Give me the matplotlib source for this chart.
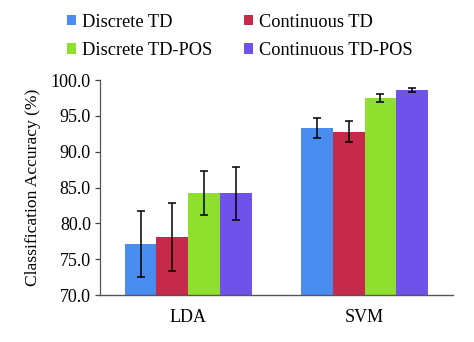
import matplotlib
matplotlib.use("Agg")
import matplotlib.pyplot as plt
import numpy as np

plt.rcParams.update({
    "font.family": "Liberation Serif",
    "font.size": 13,
})

classifiers = ["LDA", "SVM"]
series = ["Discrete TD", "Continuous TD", "Discrete TD-POS", "Continuous TD-POS"]
accuracy = {
    "Discrete TD":       [77.2, 93.3],
    "Continuous TD":     [78.1, 92.8],
    "Discrete TD-POS":   [84.2, 97.5],
    "Continuous TD-POS": [84.2, 98.6],
}
std_err = {
    "Discrete TD":       [4.6, 1.4],
    "Continuous TD":     [4.75, 1.5],
    "Discrete TD-POS":   [3.05, 0.6],
    "Continuous TD-POS": [3.7, 0.3],
}
colors = {
    "Discrete TD":       "#4a8df0",
    "Continuous TD":     "#c52a4a",
    "Discrete TD-POS":   "#8fe02c",
    "Continuous TD-POS": "#6e52ea",
}

fig = plt.figure(figsize=(4.74, 3.42), dpi=100)
ax = fig.add_axes([0.211, 0.137, 0.744, 0.629])

x = np.arange(len(classifiers))
width = 0.18
handles = {}
for i, name in enumerate(series):
    offs = (i - 1.5) * width
    b = ax.bar(x + offs, accuracy[name], width, color=colors[name],
               yerr=std_err[name], capsize=2.6,
               error_kw=dict(ecolor="black", elinewidth=1.1, capthick=1.1),
               label=name)
    handles[name] = b

ax.set_xlim(-0.5, 1.5)
ax.set_ylim(70, 100)
ax.set_yticks(np.arange(70, 100.1, 5))
ax.set_yticklabels([f"{v:.1f}" for v in np.arange(70, 100.1, 5)])
ax.set_xticks(x)
ax.set_xticklabels(classifiers)
ax.tick_params(axis="x", length=0, pad=10)
ax.tick_params(axis="y", direction="out", length=3.5, width=0.9, color="#444444", pad=3)
ax.set_ylabel("Classification Accuracy (%)", fontsize=12.6, labelpad=7)

for s in ["top", "right"]:
    ax.spines[s].set_visible(False)
ax.spines["left"].set_color("#555555")
ax.spines["bottom"].set_color("#555555")
ax.spines["left"].set_linewidth(0.9)
ax.spines["bottom"].set_linewidth(1.0)

# legend reads row-wise: TD pair on top, TD-POS pair below
order = ["Discrete TD", "Discrete TD-POS", "Continuous TD", "Continuous TD-POS"]
fig.legend([handles[n] for n in order], order, ncol=2, frameon=False,
           loc="upper left", bbox_to_anchor=(0.107, 1.008),
           handlelength=0.5, handleheight=0.5, handletextpad=0.3,
           columnspacing=1.75, labelspacing=0.62, fontsize=13.2)

fig.savefig("out.png", dpi=100)
